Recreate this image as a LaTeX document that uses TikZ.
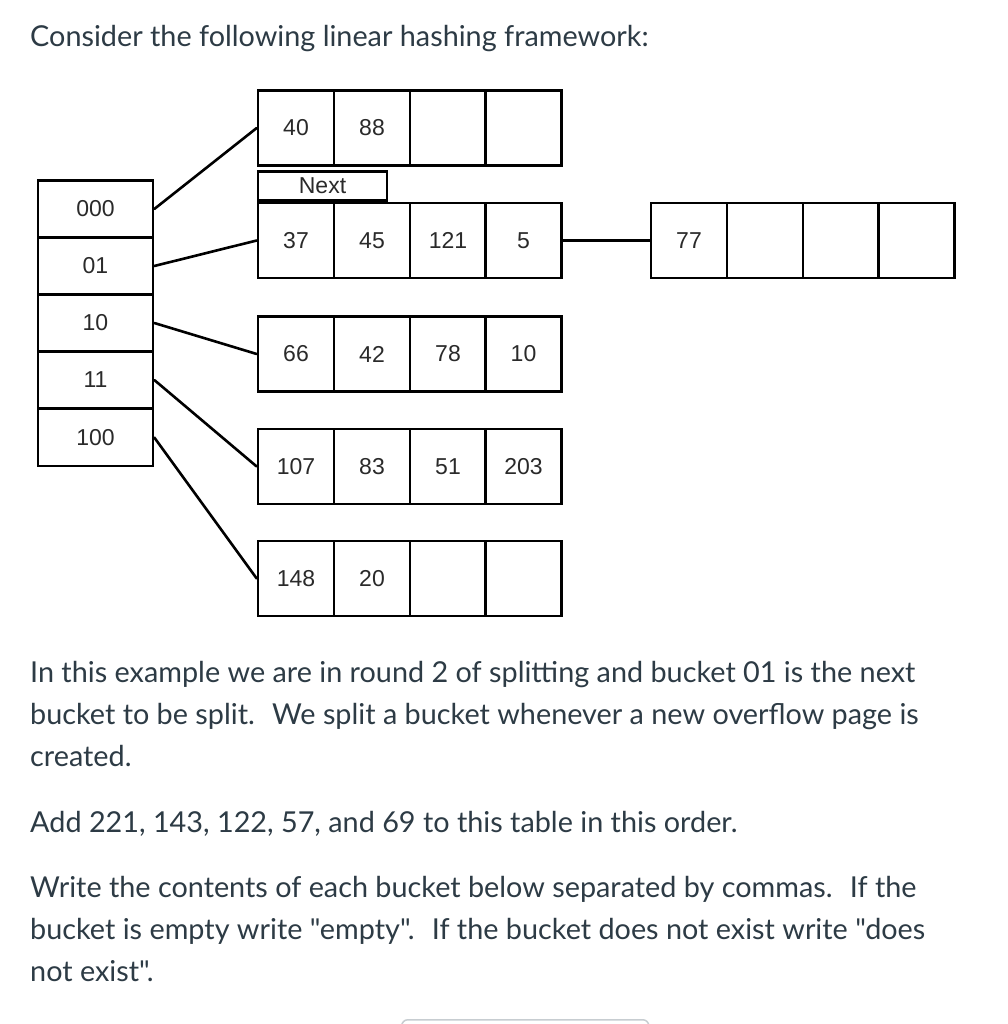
\documentclass[tikz,border=0pt]{standalone}
\usepackage{fontspec}
\setmainfont{Lato}[Ligatures=TeXOff]
\newfontfamily\arialfont{Liberation Sans}
\definecolor{canvastext}{HTML}{2D3B45}
\definecolor{celltext}{HTML}{2A2A2A}
\definecolor{boxgray}{HTML}{C7CDD1}
\begin{document}
\begin{tikzpicture}[x=1pt,y=-1pt,
  lw/.style={line width=2.6pt},
  cell/.style={draw, lw, minimum width=76pt, minimum height=75pt, inner sep=0pt, font=\arialfont\fontsize{23}{25}\selectfont, text=celltext},
  dircell/.style={draw, lw, minimum width=115pt, inner sep=0pt, font=\arialfont\fontsize{23}{25}\selectfont, text=celltext},
  link/.style={lw, line cap=round},
  para/.style={anchor=base west, inner sep=0pt, font=\fontsize{28.8}{31}\selectfont, text=canvastext}
]
\useasboundingbox (0,0) rectangle (1007,1024);
\fill[white] (0,0) rectangle (1007,1024);

% text
\node[para] (t0) at (30,47) {Consider the following linear hashing framework:};
\node[para] (t1) at (30,682) {In this example we are in round 2 of splitting and bucket 01 is the next};
\node[para] (t2) at (30,724) {bucket to be split.\hspace{0.6em}We split a bucket whenever a new overflow page is};
\node[para] (t3) at (30,766) {created.};
\node[para] (t4) at (30,832) {Add 221, 143, 122, 57, and 69 to this table in this order.};
\node[para] (t5) at (30,897) {Write the contents of each bucket below separated by commas.\hspace{0.6em}If the};
\node[para] (t6) at (30,939) {bucket is empty write "empty".\hspace{0.6em}If the bucket does not exist write "does};
\node[para] (t7) at (30,981) {not exist".};

% directory
\node[dircell, minimum height=57pt] (d000) at (95.5,209) {000};
\node[dircell, minimum height=57pt] (d01)  at (95.5,266) {01};
\node[dircell, minimum height=57pt] (d10)  at (95.5,323) {10};
\node[dircell, minimum height=57pt] (d11)  at (95.5,380) {11};
\node[dircell, minimum height=57pt] (d100) at (95.5,437.5) {100};

% buckets
\foreach \name/\y/\a/\b/\c/\d in {ba/128/40/88//, bb/240.5/37/45/121/5, bc/354/66/42/78/10, bd/466.5/107/83/51/203, be/578.5/148/20//}{
  \node[cell] (\name1) at (296,\y) {\a};
  \node[cell] (\name2) at (372,\y) {\b};
  \node[cell] (\name3) at (448,\y) {\c};
  \node[cell] (\name4) at (523.5,\y) {\d};
}
% overflow page
\node[cell] (ov1) at (689,240.5) {77};
\node[cell] (ov2) at (765,240.5) {};
\node[cell] (ov3) at (841,240.5) {};
\node[cell] (ov4) at (916.5,240.5) {};

% Next label
\node[draw, lw, minimum width=129pt, minimum height=29pt, inner sep=0pt, anchor=south west, font=\arialfont\fontsize{23}{25}\selectfont, text=celltext] (next) at (bb1.north west) {Next};

% connectors
\draw[link] (d000.east) -- (ba1.west);
\draw[link] (d01.east) -- (bb1.west);
\draw[link] (d10.east) -- (bc1.west);
\draw[link] (d11.east) -- (bd1.west);
\draw[link] (d100.east) -- (be1.west);
\draw[lw] (bb4.east) -- (ov1.west);

% answer box at the bottom edge
\begin{scope}
\clip (0,0) rectangle (1007,1024);
\node[draw=boxgray, line width=1.5pt, rounded corners=6pt, minimum width=247pt, minimum height=40pt, anchor=north west, inner sep=0pt] (answer) at (401,1019) {};
\end{scope}
\end{tikzpicture}
\end{document}
